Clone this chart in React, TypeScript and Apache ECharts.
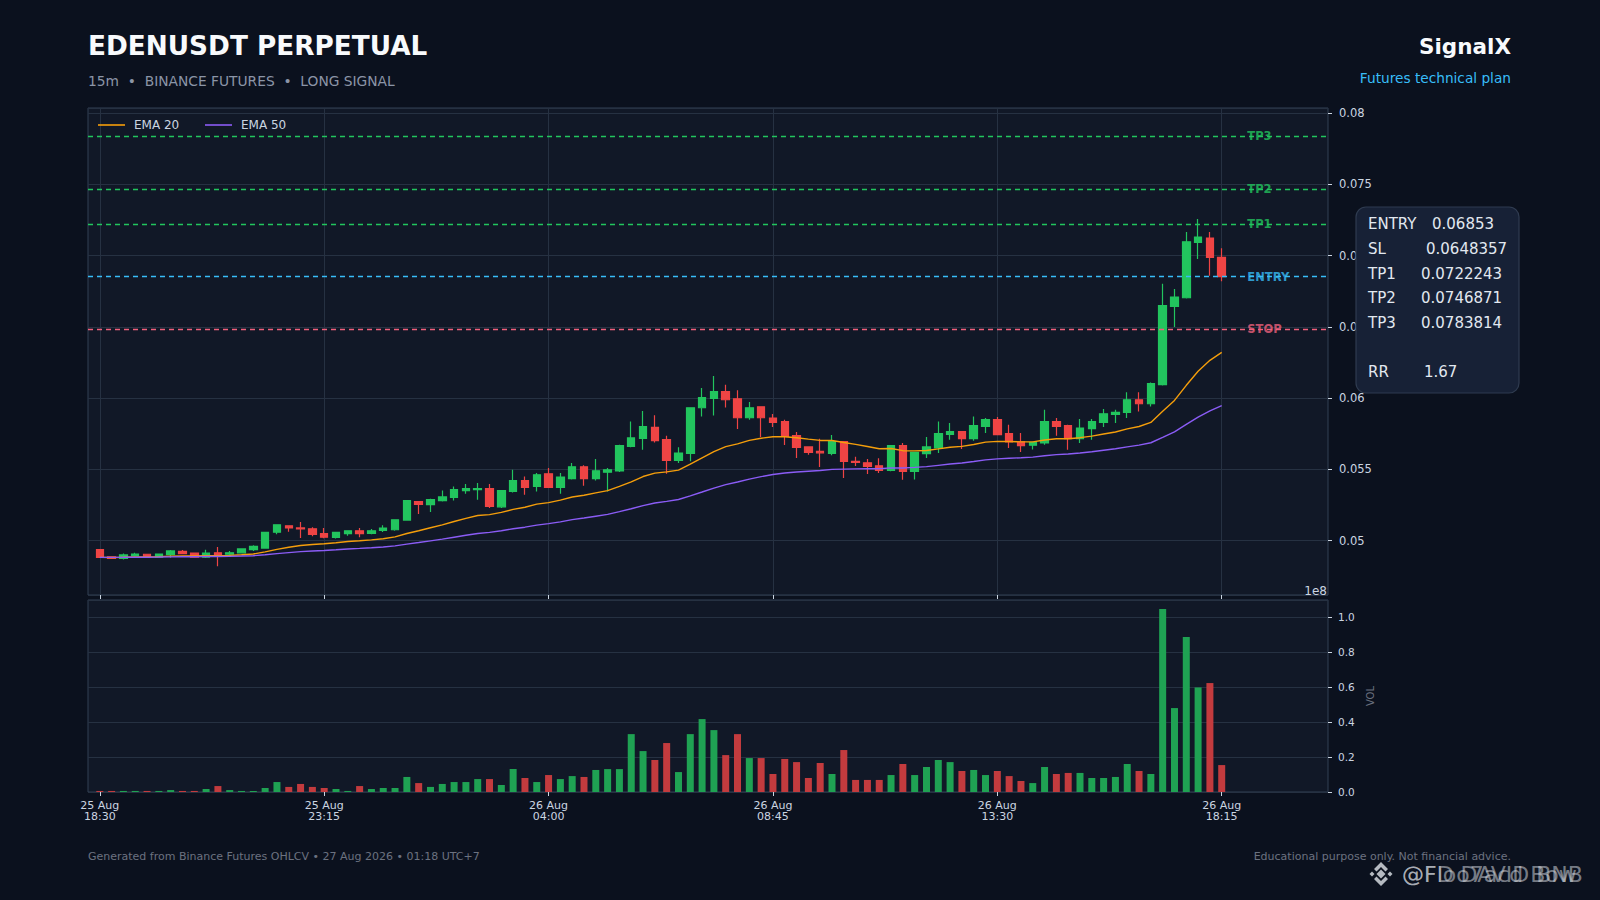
import React, { useEffect, useRef } from "react";
import * as echarts from "echarts";

// ---------- data ----------
const OPEN = [
  0.04937, 0.04886, 0.04875, 0.04896, 0.04905, 0.04885, 0.04903, 0.04925, 0.04913, 0.04884,
  0.04915, 0.04905, 0.04915, 0.04938, 0.04948, 0.0506, 0.05105, 0.0509, 0.05084, 0.0505,
  0.05023, 0.05049, 0.0507, 0.05052, 0.05072, 0.05077, 0.05145, 0.05274, 0.05253, 0.05281,
  0.05304, 0.05351, 0.05358, 0.05365, 0.05238, 0.05346, 0.05421, 0.05381, 0.0547, 0.05374,
  0.05435, 0.05519, 0.05435, 0.05481, 0.05489, 0.05662, 0.05718, 0.05795, 0.05709, 0.05563,
  0.05613, 0.05933, 0.05998, 0.06046, 0.05996, 0.05863, 0.0594, 0.05861, 0.05835, 0.05737,
  0.05658, 0.05627, 0.05613, 0.05695, 0.05557, 0.05547, 0.05526, 0.05493, 0.05667, 0.05486,
  0.05611, 0.05651, 0.05746, 0.05765, 0.05716, 0.05802, 0.05849, 0.05751, 0.05693, 0.0567,
  0.05686, 0.05835, 0.05807, 0.05716, 0.05786, 0.0583, 0.05886, 0.059, 0.05989, 0.05961,
  0.06095, 0.06645, 0.06705, 0.07093, 0.07124, 0.06988,
];
const CLOSE = [
  0.04883, 0.04876, 0.049, 0.04906, 0.04886, 0.04906, 0.04928, 0.0491, 0.04885, 0.04913,
  0.049, 0.04915, 0.04942, 0.0496, 0.05058, 0.05112, 0.0509, 0.05082, 0.05044, 0.05025,
  0.05058, 0.0507, 0.05049, 0.0507, 0.05089, 0.05147, 0.05281, 0.05255, 0.05288, 0.05307,
  0.05358, 0.05365, 0.05365, 0.05241, 0.05351, 0.05421, 0.05374, 0.05463, 0.05374, 0.05447,
  0.05519, 0.05435, 0.05491, 0.05498, 0.05667, 0.05721, 0.058, 0.05702, 0.05563, 0.05615,
  0.05933, 0.06004, 0.06046, 0.05989, 0.05863, 0.05933, 0.05863, 0.0583, 0.05732, 0.05655,
  0.0562, 0.05617, 0.05695, 0.05557, 0.0555, 0.05521, 0.05493, 0.05667, 0.05486, 0.0562,
  0.05658, 0.05751, 0.05765, 0.05716, 0.05807, 0.05849, 0.05744, 0.05693, 0.05667, 0.05688,
  0.05835, 0.05802, 0.05716, 0.05791, 0.05835, 0.05891, 0.059, 0.05989, 0.05961, 0.06102,
  0.06649, 0.0671, 0.07098, 0.07131, 0.06988, 0.06853,
];
const LOW = [
  0.0488, 0.04872, 0.04868, 0.0489, 0.0488, 0.0488, 0.0488, 0.04905, 0.0488, 0.04878,
  0.0482, 0.04895, 0.0491, 0.04928, 0.04945, 0.05045, 0.05062, 0.05019, 0.05032, 0.05018,
  0.05016, 0.05035, 0.05025, 0.05046, 0.05061, 0.0507, 0.0514, 0.05187, 0.05201, 0.05276,
  0.05283, 0.0533, 0.05288, 0.05229, 0.05229, 0.05339, 0.05323, 0.05346, 0.0537, 0.0533,
  0.0543, 0.05386, 0.05423, 0.05346, 0.05482, 0.05655, 0.05639, 0.0569, 0.0547, 0.05545,
  0.05557, 0.05872, 0.05879, 0.05935, 0.05784, 0.05849, 0.05728, 0.05798, 0.05672, 0.05581,
  0.05604, 0.05517, 0.056, 0.0544, 0.05525, 0.05468, 0.05475, 0.05488, 0.05428, 0.0543,
  0.05581, 0.05615, 0.05709, 0.05644, 0.05702, 0.05756, 0.0574, 0.05651, 0.05622, 0.0564,
  0.05674, 0.05737, 0.05639, 0.05686, 0.05709, 0.05798, 0.05826, 0.05861, 0.05907, 0.05942,
  0.0609, 0.065, 0.067, 0.06977, 0.0686, 0.0682,
];
const HIGH = [
  0.0494, 0.04888, 0.0491, 0.04915, 0.04908, 0.04908, 0.04935, 0.04935, 0.04915, 0.04937,
  0.04955, 0.04928, 0.04945, 0.04968, 0.0506, 0.05112, 0.05108, 0.05131, 0.05095, 0.05089,
  0.0506, 0.05072, 0.05089, 0.05082, 0.05108, 0.05148, 0.05283, 0.05276, 0.05295, 0.05353,
  0.05381, 0.05398, 0.05405, 0.05398, 0.05355, 0.05498, 0.05451, 0.05475, 0.0551, 0.05475,
  0.05545, 0.0553, 0.05573, 0.0551, 0.05674, 0.05837, 0.0591, 0.0588, 0.05737, 0.05655,
  0.05935, 0.06072, 0.06156, 0.06095, 0.06055, 0.05974, 0.05942, 0.05889, 0.05849, 0.05763,
  0.0566, 0.05716, 0.05742, 0.057, 0.0559, 0.05573, 0.05578, 0.0567, 0.05686, 0.05625,
  0.05728, 0.05837, 0.05826, 0.05768, 0.05872, 0.05861, 0.05868, 0.05814, 0.05756, 0.05695,
  0.05919, 0.05861, 0.05814, 0.05854, 0.05854, 0.05924, 0.05919, 0.06041, 0.06041, 0.06111,
  0.06804, 0.06766, 0.07166, 0.07258, 0.07166, 0.07052,
];
// volume in units of 1e8
const VOLUME_E8 = [
  0.006, 0.006, 0.006, 0.006, 0.006, 0.006, 0.011, 0.006, 0.006, 0.017,
  0.034, 0.011, 0.006, 0.006, 0.023, 0.057, 0.029, 0.046, 0.029, 0.023,
  0.017, 0.006, 0.034, 0.017, 0.023, 0.023, 0.086, 0.051, 0.029, 0.046,
  0.057, 0.057, 0.074, 0.074, 0.04, 0.131, 0.08, 0.057, 0.097, 0.074,
  0.091, 0.086, 0.126, 0.131, 0.131, 0.331, 0.234, 0.183, 0.28, 0.114,
  0.331, 0.417, 0.354, 0.211, 0.331, 0.194, 0.194, 0.103, 0.189, 0.171,
  0.08, 0.166, 0.103, 0.24, 0.069, 0.069, 0.069, 0.097, 0.16, 0.097,
  0.143, 0.183, 0.171, 0.12, 0.126, 0.097, 0.12, 0.091, 0.063, 0.051,
  0.143, 0.103, 0.109, 0.109, 0.08, 0.08, 0.086, 0.16, 0.12, 0.103,
  1.046, 0.48, 0.886, 0.598, 0.623, 0.154,
];
const TIME_TICK_INDEX = [0, 19, 38, 57, 76, 95];
const TIME_TICK_LABELS = [
  "25 Aug\n18:30",
  "25 Aug\n23:15",
  "26 Aug\n04:00",
  "26 Aug\n08:45",
  "26 Aug\n13:30",
  "26 Aug\n18:15",
];
const LEVEL_NAMES = ["TP3", "TP2", "TP1", "ENTRY", "STOP"];
const LEVEL_VALUES = [0.0783814, 0.0746871, 0.0722243, 0.06853, 0.0648357];
const LEVEL_COLORS = ["#22c55e", "#22c55e", "#22c55e", "#38bdf8", "#f0607c"];
const PLAN_LABELS = ["ENTRY", "SL", "TP1", "TP2", "TP3", "RR"];
const PLAN_VALUES = ["0.06853", "0.0648357", "0.0722243", "0.0746871", "0.0783814", "1.67"];
const EMA_SPANS = [20, 50];
const EMA_NAMES = ["EMA 20", "EMA 50"];

// ---------- styling ----------
const FONT = "DejaVu Sans";
const BG = "#0b111e";
const PANEL = "#111827";
const GRIDC = "#263142";
const BORDER = "#334155";
const TICKC = "#cbd5e1";
const UP = "#22c55e";
const DOWN = "#ef4444";
const VOL_UP = "#1fa253";
const VOL_DOWN = "#c33b3e";
const EMA_COLORS = ["#f59e0b", "#8b5cf6"];

function ema(values: number[], span: number): number[] {
  const a = 2 / (span + 1);
  const out: number[] = [];
  let prev = values[0];
  values.forEach((v, i) => {
    prev = i === 0 ? v : a * v + (1 - a) * prev;
    out.push(prev);
  });
  return out;
}

export default function App() {
  const ref = useRef<HTMLDivElement>(null);

  useEffect(() => {
    if (!ref.current) return;
    const chart = echarts.init(ref.current, undefined, { renderer: "svg" });

    const cats: string[] = [];
    for (let k = -1; k <= 104; k++) cats.push(String(k));
    const tickSet = new Set(TIME_TICK_INDEX.map(String));
    const labelMap: Record<string, string> = {};
    TIME_TICK_INDEX.forEach((t, i) => (labelMap[String(t)] = TIME_TICK_LABELS[i]));
    const tickInterval = (_idx: number, value: string) => tickSet.has(String(value));

    const candles = OPEN.map((o, i) => [String(i), o, CLOSE[i], LOW[i], HIGH[i]]);
    const vols = VOLUME_E8.map((v, i) => ({
      value: [String(i), v],
      itemStyle: { color: CLOSE[i] >= OPEN[i] ? VOL_UP : VOL_DOWN },
    }));
    const emaSeries = EMA_SPANS.map((span, k) => {
      const e = ema(CLOSE, span);
      return {
        type: "line",
        name: EMA_NAMES[k],
        xAxisIndex: 0,
        yAxisIndex: 0,
        data: e.map((v, i) => [String(i), v]),
        showSymbol: false,
        symbol: "none",
        lineStyle: { color: EMA_COLORS[k], width: 1.4 },
        z: 5,
        silent: true,
      };
    });

    const txt = (x: number, y: number, text: string, o: any = {}) => ({
      type: "text",
      x,
      y,
      z: 100,
      silent: true,
      style: {
        text,
        fill: o.fill || "#e5e7eb",
        fontSize: o.size || 12,
        fontFamily: FONT,
        fontWeight: o.weight || "normal",
        align: o.align || "left",
        textAlign: o.align || "left",
        verticalAlign: "middle",
        textVerticalAlign: "middle",
        opacity: o.opacity == null ? 1 : o.opacity,
      },
    });

    const graphics: any[] = [];
    graphics.push(txt(88, 45.5, "EDENUSDT PERPETUAL", { size: 26.3, weight: "bold", fill: "#f8fafc" }));
    graphics.push(
      txt(88, 81, "15m  •  BINANCE FUTURES  •  LONG SIGNAL", { size: 13.8, fill: "#8b95a7" })
    );
    graphics.push(txt(1511, 46, "SignalX", { size: 21.5, weight: "bold", fill: "#f8fafc", align: "right" }));
    graphics.push(txt(1511, 78, "Futures technical plan", { size: 13.7, fill: "#38bdf8", align: "right" }));

    // legend
    const legX = [98, 205];
    EMA_NAMES.forEach((n, k) => {
      graphics.push({
        type: "line",
        z: 100,
        silent: true,
        shape: { x1: legX[k], y1: 125, x2: legX[k] + 27, y2: 125 },
        style: { stroke: EMA_COLORS[k], lineWidth: 1.6 },
      });
      graphics.push(txt(legX[k] + 36, 125, n, { size: 12, fill: "#cbd5e1" }));
    });

    // info box
    graphics.push({
      type: "rect",
      z: 99,
      silent: true,
      shape: { x: 1356, y: 207, width: 163, height: 186, r: 10 },
      style: { fill: "#172136", stroke: "#2f3b50", lineWidth: 1.2 },
    });
    const rowY = [224, 249, 273.7, 298, 323, 372];
    const valX = [1432, 1426, 1421, 1421, 1421, 1424];
    PLAN_LABELS.forEach((l, i) => {
      graphics.push(txt(1368, rowY[i], l, { size: 15, fill: "#e2e8f0" }));
      graphics.push(txt(valX[i], rowY[i], PLAN_VALUES[i], { size: 15, fill: "#e2e8f0" }));
    });

    // offset text for volume axis
    graphics.push(txt(1327, 591, "1e8", { size: 12, fill: "#cbd5e1", align: "right" }));

    // footer
    graphics.push(
      txt(88, 856, "Generated from Binance Futures OHLCV • 27 Aug 2026 • 01:18 UTC+7", {
        size: 11,
        fill: "#6b7280",
      })
    );
    graphics.push(
      txt(1511, 856, "Educational purpose only. Not financial advice.", {
        size: 11,
        fill: "#6b7280",
        align: "right",
      })
    );

    // watermark logo
    const cx = 1381,
      cy = 874;
    const wm = "#d4d8de";
    const polys = [
      [[cx, cy - 4.5], [cx + 4.5, cy], [cx, cy + 4.5], [cx - 4.5, cy]],
      [[cx - 9, cy - 2.5], [cx - 6.5, cy], [cx - 9, cy + 2.5], [cx - 11.5, cy]],
      [[cx + 9, cy - 2.5], [cx + 11.5, cy], [cx + 9, cy + 2.5], [cx + 6.5, cy]],
      [[cx, cy - 12], [cx + 7, cy - 5], [cx + 4.5, cy - 2.5], [cx, cy - 7], [cx - 4.5, cy - 2.5], [cx - 7, cy - 5]],
      [[cx, cy + 12], [cx + 7, cy + 5], [cx + 4.5, cy + 2.5], [cx, cy + 7], [cx - 4.5, cy + 2.5], [cx - 7, cy + 5]],
    ];
    polys.forEach((p) =>
      graphics.push({ type: "polygon", z: 100, silent: true, shape: { points: p }, style: { fill: wm, opacity: 0.85 } })
    );
    graphics.push(txt(1402, 874, "@FD DAVID BNB", { size: 22, fill: wm, opacity: 0.55 }));
    graphics.push(txt(1402, 874, "@Floo7acd Bow", { size: 22, fill: wm, opacity: 0.55 }));

    const option: any = {
      animation: false,
      backgroundColor: BG,
      textStyle: { fontFamily: FONT },
      grid: [
        {
          left: 88,
          top: 108,
          width: 1240,
          height: 487,
          show: true,
          backgroundColor: PANEL,
          borderColor: BORDER,
          borderWidth: 1,
          containLabel: false,
          outerBoundsMode: "none",
        },
        {
          left: 88,
          top: 600,
          width: 1240,
          height: 192,
          show: true,
          backgroundColor: PANEL,
          borderColor: BORDER,
          borderWidth: 1,
          containLabel: false,
          outerBoundsMode: "none",
        },
      ],
      xAxis: [
        {
          type: "category",
          gridIndex: 0,
          data: cats,
          boundaryGap: false,
          axisLine: { show: false },
          axisTick: { show: true, interval: tickInterval, length: 4, lineStyle: { color: TICKC } },
          axisLabel: { show: false },
          splitLine: { show: true, interval: tickInterval, lineStyle: { color: GRIDC, width: 1 } },
        },
        {
          type: "category",
          gridIndex: 1,
          data: cats,
          boundaryGap: false,
          axisLine: { show: false },
          axisTick: { show: true, interval: tickInterval, length: 4, lineStyle: { color: TICKC } },
          axisLabel: {
            show: true,
            interval: tickInterval,
            formatter: (v: string) => labelMap[v] || "",
            color: TICKC,
            fontSize: 11,
            lineHeight: 11,
            margin: 8,
            fontFamily: FONT,
          },
          splitLine: { show: false },
        },
      ],
      yAxis: [
        {
          type: "value",
          gridIndex: 0,
          position: "right",
          min: 0.04619,
          max: 0.080365,
          splitNumber: 7,
          minInterval: 0.005,
          maxInterval: 0.005,
          axisLine: { show: false },
          axisTick: { show: true, length: 4, lineStyle: { color: TICKC } },
          axisLabel: {
            color: TICKC,
            fontSize: 11.5,
            margin: 11,
            fontFamily: FONT,
            showMinLabel: false,
            showMaxLabel: false,
            formatter: (v: number) => String(parseFloat(v.toFixed(4))),
          },
          splitLine: { show: true, lineStyle: { color: GRIDC, width: 1 } },
        },
        {
          type: "value",
          gridIndex: 1,
          position: "right",
          min: 0,
          max: 1.098,
          splitNumber: 5,
          minInterval: 0.2,
          maxInterval: 0.2,
          name: "VOL",
          nameLocation: "middle",
          nameGap: 32,
          nameRotate: 90,
          nameTextStyle: { color: "#6b7280", fontSize: 10, fontFamily: FONT },
          axisLine: { show: false },
          axisTick: { show: true, length: 4, lineStyle: { color: TICKC } },
          axisLabel: {
            color: TICKC,
            fontSize: 10.5,
            margin: 10,
            fontFamily: FONT,
            showMaxLabel: false,
            formatter: (v: number) => v.toFixed(1),
          },
          splitLine: { show: true, lineStyle: { color: GRIDC, width: 1 } },
        },
      ],
      series: [
        {
          type: "candlestick",
          xAxisIndex: 0,
          yAxisIndex: 0,
          data: candles,
          encode: { x: 0, y: [1, 2, 3, 4] },
          barWidth: 8,
          itemStyle: {
            color: UP,
            color0: DOWN,
            borderColor: UP,
            borderColor0: DOWN,
            borderWidth: 1.2,
          },
          z: 3,
          silent: true,
        },
        ...emaSeries,
        {
          type: "scatter",
          xAxisIndex: 0,
          yAxisIndex: 0,
          symbolSize: 0,
          silent: true,
          z: 6,
          data: LEVEL_VALUES.map((v, i) => ({
            name: LEVEL_NAMES[i],
            value: ["97", v],
            label: { color: LEVEL_COLORS[i] },
          })),
          label: {
            show: true,
            position: "right",
            distance: 2,
            formatter: "{b}",
            fontWeight: "bold",
            fontSize: 11.5,
            fontFamily: FONT,
          },
          markLine: {
            silent: true,
            precision: 8,
            symbol: ["none", "none"],
            label: { show: false },
            data: LEVEL_VALUES.map((v, i) => ({
              yAxis: v,
              lineStyle: { color: LEVEL_COLORS[i], type: [5, 4], width: 1.3, opacity: 1 },
            })),
          },
        },
        {
          type: "bar",
          xAxisIndex: 1,
          yAxisIndex: 1,
          data: vols,
          barWidth: 7,
          silent: true,
        },
      ],
      graphic: graphics,
    };

    chart.setOption(option);
    return () => chart.dispose();
  }, []);

  return (
    <div
      ref={ref}
      style={{ position: "fixed", left: 0, top: 0, width: 1600, height: 900, background: BG }}
    />
  );
}
